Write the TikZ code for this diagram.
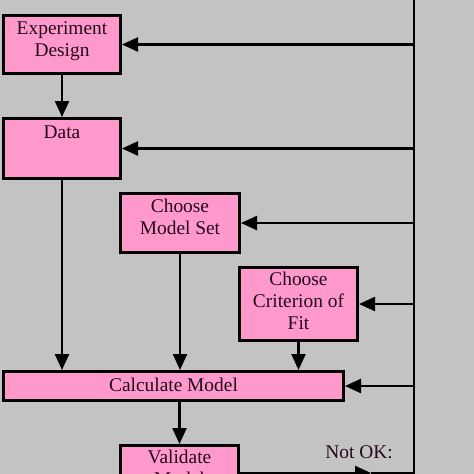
\documentclass[tikz,border=0pt]{standalone}
\usepackage{fontspec}
\setmainfont{Liberation Serif}
\usetikzlibrary{arrows.meta}
\definecolor{bgc}{RGB}{195,195,195}
\definecolor{pinkc}{RGB}{255,153,204}
\definecolor{txtc}{RGB}{35,10,28}
\newcommand\bxt[4]{\parbox[c][#2pt][t]{#1pt}{\centering\rule{0pt}{#3pt}#4}}
\begin{document}
\begin{tikzpicture}[x=1pt,y=-1pt,
  box/.style={draw=black, line width=3pt, fill=pinkc, inner sep=0pt, anchor=north west,
    text=txtc, font=\fontsize{19.4}{22}\selectfont},
  conn/.style={draw=black, line width=2.3pt},
  arr/.style={conn, -{Triangle[length=16pt,width=14pt]}},
  lbl/.style={text=txtc, font=\fontsize{19.4}{22}\selectfont, inner sep=0pt}]
\useasboundingbox (0,0) rectangle (474,474);
\clip (0,0) rectangle (474,474);
\fill[bgc] (0,0) rectangle (474,474);
\node[box] (ed) at (2,14) {\bxt{117}{58}{19}{Experiment\\Design}};
\node[box] (data) at (2,117) {\bxt{117}{60}{20}{Data}};
\node[box] (cms) at (119,192) {\bxt{119}{59}{19}{Choose\\Model Set}};
\node[box] (ccf) at (238,266) {\bxt{118}{73}{18}{Choose\\Criterion of\\Fit}};
\node[box] (calc) at (2,370) {\bxt{340}{29}{20}{Calculate Model}};
\node[box] (val) at (119,444) {\bxt{118}{60}{18}{Validate\\Model}};
\node[lbl] (nok) at (359,452) {Not OK:};
\coordinate (bustop) at (414,-5);
\coordinate (busbot) at (414,473);
\coordinate (tip) at (371,473);
% forward arrows
\draw[arr] (ed.south) -- (data.north);
\draw[arr] (data.south) -- (data.south |- calc.north);
\draw[arr] (cms.south) -- (cms.south |- calc.north);
\draw[arr] (ccf.south) -- (ccf.south |- calc.north);
\draw[arr] (calc.south -| val.north) -- (val.north);
% feedback
\draw[conn] (bustop) -- (414,480);
\draw[arr] (val.east |- tip) -- (tip);
\draw[conn] (tip) -- (busbot);
\draw[arr] (bustop |- ed.east) -- (ed.east);
\draw[arr] (bustop |- data.east) -- (data.east);
\draw[arr] (bustop |- cms.east) -- (cms.east);
\draw[arr] (bustop |- ccf.east) -- (ccf.east);
\draw[arr] (bustop |- calc.east) -- (calc.east);
\end{tikzpicture}
\end{document}
